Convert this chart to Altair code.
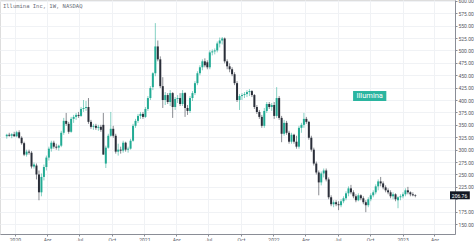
import altair as alt
import pandas as pd

title_text = "Illumina Inc, 1W, NASDAQ"
label_text = "Illumina"
last_price_text = "206.76"

opens = [327, 330, 328, 331, 327, 335, 324, 313, 290, 296,
         294, 266, 268, 250, 214, 245, 265, 284, 302, 314,
         306, 304, 308, 334, 358, 352, 336, 362, 366, 370,
         368, 382, 384, 386, 356, 346, 348, 344, 346, 350,
         272, 304, 328, 342, 328, 296, 300, 298, 314, 300,
         302, 318, 348, 358, 368, 372, 366, 382, 404, 426,
         454, 508, 482, 428, 400, 410, 396, 414, 386, 402,
         404, 392, 414, 384, 378, 404, 414, 434, 454, 466,
         478, 476, 466, 496, 498, 500, 514, 520, 524, 478,
         468, 462, 452, 434, 400, 408, 410, 412, 416, 418,
         410, 386, 376, 366, 348, 378, 392, 386, 390, 368,
         404, 364, 332, 354, 334, 316, 330, 316, 306, 344,
         350, 362, 356, 324, 300, 272, 254, 234, 252, 258,
         240, 204, 190, 194, 190, 188, 196, 202, 212, 222,
         214, 206, 198, 208, 202, 194, 188, 200, 208, 214,
         226, 236, 232, 224, 218, 214, 206, 210, 198, 204,
         206, 210, 218, 214, 210, 208]
highs = [332, 334, 333, 336, 338, 339, 327, 316, 300, 300,
         297, 274, 272, 258, 252, 270, 288, 306, 318, 318,
         312, 310, 338, 364, 374, 356, 366, 370, 374, 376,
         386, 400, 398, 404, 360, 352, 352, 350, 350, 374,
         308, 332, 376, 348, 332, 312, 306, 318, 316, 306,
         322, 352, 362, 372, 376, 376, 386, 408, 428, 456,
         555, 520, 488, 446, 416, 414, 420, 416, 406, 410,
         414, 420, 416, 390, 408, 418, 438, 458, 470, 482,
         484, 480, 500, 502, 504, 518, 526, 527, 526, 482,
         474, 466, 456, 438, 412, 414, 416, 420, 422, 420,
         412, 390, 380, 370, 384, 396, 396, 394, 396, 426,
         408, 368, 360, 358, 338, 334, 332, 328, 348, 354,
         374, 366, 358, 328, 304, 276, 258, 256, 262, 262,
         244, 208, 198, 198, 196, 200, 206, 216, 226, 229,
         218, 210, 212, 210, 206, 198, 204, 212, 218, 230,
         240, 245, 236, 228, 222, 218, 214, 212, 206, 210,
         214, 222, 225, 216, 214, 210]
lows = [322, 326, 323, 326, 325, 322, 310, 287, 286, 290,
        262, 262, 240, 198, 206, 238, 258, 278, 296, 302,
        300, 298, 305, 330, 348, 332, 334, 354, 360, 364,
        366, 376, 378, 352, 342, 340, 340, 338, 336, 290,
        263, 302, 326, 324, 292, 288, 292, 294, 296, 294,
        300, 316, 344, 354, 362, 362, 364, 378, 400, 420,
        448, 478, 424, 384, 390, 392, 388, 364, 380, 394,
        388, 388, 366, 370, 374, 398, 410, 430, 450, 460,
        466, 462, 462, 490, 492, 496, 506, 512, 474, 462,
        456, 448, 430, 396, 380, 400, 404, 406, 408, 406,
        382, 372, 362, 344, 344, 374, 382, 378, 362, 364,
        360, 315, 328, 330, 312, 312, 312, 302, 302, 334,
        344, 352, 320, 296, 268, 250, 208, 228, 244, 236,
        200, 186, 184, 186, 178, 184, 192, 198, 206, 210,
        202, 194, 196, 198, 190, 174, 184, 196, 204, 210,
        218, 226, 220, 214, 210, 202, 200, 196, 182, 198,
        202, 206, 210, 206, 206, 204]
closes = [330, 328, 331, 327, 335, 324, 313, 290, 296, 294,
          266, 270, 250, 214, 245, 265, 284, 302, 314, 306,
          304, 308, 334, 358, 352, 336, 362, 366, 370, 368,
          382, 384, 386, 356, 346, 348, 344, 346, 340, 290,
          304, 328, 342, 328, 296, 300, 298, 314, 300, 302,
          318, 348, 358, 368, 372, 366, 382, 404, 424, 454,
          508, 482, 428, 400, 410, 396, 414, 386, 402, 404,
          392, 414, 384, 378, 404, 414, 434, 454, 466, 478,
          470, 466, 496, 498, 500, 514, 520, 524, 478, 468,
          462, 452, 434, 400, 408, 410, 412, 416, 418, 410,
          386, 376, 366, 348, 378, 392, 386, 390, 368, 404,
          364, 332, 354, 334, 316, 330, 316, 306, 344, 350,
          362, 356, 324, 300, 272, 254, 234, 252, 258, 240,
          204, 190, 194, 190, 188, 196, 202, 212, 222, 214,
          206, 198, 208, 202, 194, 188, 200, 208, 214, 226,
          236, 232, 224, 218, 214, 206, 210, 200, 204, 206,
          210, 218, 214, 210, 208, 206.76]

dates = pd.date_range("2019-12-09", periods=len(closes), freq="7D")
df = pd.DataFrame({
    "date": dates,
    "open": opens,
    "high": highs,
    "low": lows,
    "close": closes,
})
df["dir"] = ["up" if c >= o else "down" for o, c in zip(opens, closes)]

TEAL = "#22ab94"
DARK = "#2a2e39"
GRID = "#f0f2f5"
AXIS = "#8a8d96"
LABEL = "#555863"

x_ticks = [
    alt.DateTime(year=y, month=m, date=1)
    for y, m in [(2020, 1), (2020, 4), (2020, 7), (2020, 10),
                 (2021, 1), (2021, 4), (2021, 7), (2021, 10),
                 (2022, 1), (2022, 4), (2022, 7), (2022, 10),
                 (2023, 1), (2023, 4)]
]
y_ticks = list(range(150, 601, 25))

xscale = alt.Scale(domain=[alt.DateTime(year=2019, month=12, date=4),
                           alt.DateTime(year=2023, month=5, date=15)])
yscale = alt.Scale(domain=[130, 601.6], nice=False, zero=False)

xaxis = alt.Axis(values=x_ticks, tickCount=40, title=None, grid=True, gridColor=GRID,
                 domainColor=AXIS, tickColor=AXIS, tickSize=2, labelPadding=1,
                 labelFontSize=5, labelColor=LABEL, labelFont="Roboto",
                 labelOverlap=False, labelFlush=False,
                 labelExpr="month(datum.value) == 0 ? timeFormat(datum.value, '%Y') : timeFormat(datum.value, '%b')")
yaxis = alt.Axis(values=y_ticks, tickCount=40, orient="right", title=None, grid=True,
                 gridColor=GRID, domainColor=AXIS, tickColor=AXIS, tickSize=2,
                 labelPadding=1, labelFontSize=5, labelColor=LABEL,
                 labelOverlap=False, labelFlush=False,
                 labelFont="Roboto",
                 labelExpr="datum.value == 200 ? '' : format(datum.value, '.2f')")

color = alt.Color("dir:N", scale=alt.Scale(domain=["up", "down"], range=[TEAL, DARK]), legend=None)

base = alt.Chart(df).encode(x=alt.X("date:T", scale=xscale, axis=xaxis))

wicks = base.mark_rule(strokeWidth=1, opacity=0.55).encode(
    y=alt.Y("low:Q", scale=yscale, axis=yaxis),
    y2="high:Q",
    color=color,
)
bodies = base.mark_bar(size=2).encode(
    y=alt.Y("open:Q", scale=yscale),
    y2="close:Q",
    color=color,
)

# annotation box "Illumina"
ann_df = pd.DataFrame({
    "x1": [pd.Timestamp("2022-08-14")],
    "x2": [pd.Timestamp("2022-11-16")],
    "xm": [pd.Timestamp("2022-09-30")],
    "y1": [398],
    "y2": [418],
    "ym": [408],
    "t": [label_text],
})
ann_box = alt.Chart(ann_df).mark_rect(color="#2bb5a0").encode(
    x=alt.X("x1:T", scale=xscale), x2="x2:T",
    y=alt.Y("y1:Q", scale=yscale), y2="y2:Q",
)
ann_text = alt.Chart(ann_df).mark_text(color="white", fontSize=7.5, font="Roboto",
                                      baseline="middle", align="center").encode(
    x=alt.X("xm:T", scale=xscale), y=alt.Y("ym:Q", scale=yscale), text="t:N",
)

# last price tag
tag_df = pd.DataFrame({
    "x1": [pd.Timestamp("2023-05-15")],
    "x2": [pd.Timestamp("2023-07-10")],
    "xm": [pd.Timestamp("2023-06-11")],
    "y1": [200.0],
    "y2": [216.0],
    "ym": [closes[-1]],
    "t": [last_price_text],
})
tag_box = alt.Chart(tag_df).mark_rect(color="#131722").encode(
    x=alt.X("x1:T", scale=xscale), x2="x2:T",
    y=alt.Y("y1:Q", scale=yscale), y2="y2:Q",
)
tag_text = alt.Chart(tag_df).mark_text(color="white", fontSize=5, font="Roboto",
                                      baseline="middle", align="center").encode(
    x=alt.X("xm:T", scale=xscale), y=alt.Y("ym:Q", scale=yscale), text="t:N",
)

title_df = pd.DataFrame({"t": [title_text]})
title = alt.Chart(title_df).mark_text(color="#6a6d78", fontSize=5.5, font="DejaVu Sans Mono",
                                     align="left", baseline="middle").encode(
    x=alt.value(3), y=alt.value(6), text="t:N",
)

chart = alt.layer(wicks, bodies, ann_box, ann_text, tag_box, tag_text, title).properties(
    width=455, height=234,
    autosize=alt.AutoSizeParams(type="none"),
    padding={"left": 0, "top": 0, "right": 19, "bottom": 7},
).configure_view(stroke=None).configure(background="white")

chart.save("out.html", embed_options={"renderer": "svg", "actions": False})
